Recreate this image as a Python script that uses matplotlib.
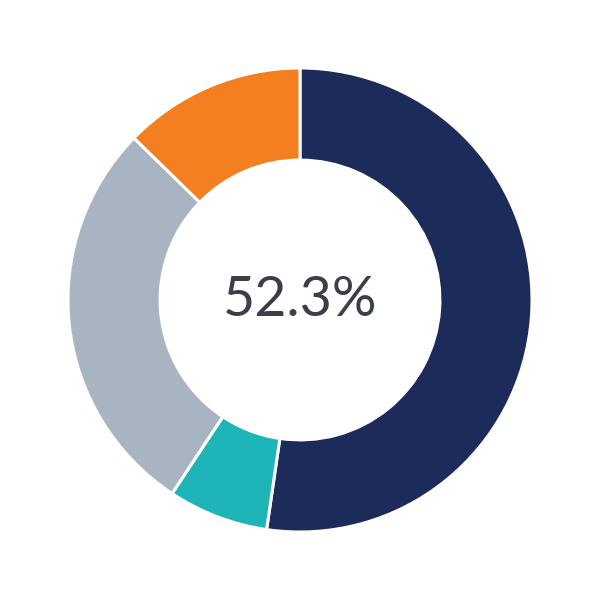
import matplotlib.pyplot as plt

labels = ['Navy', 'Teal', 'Gray', 'Orange']
shares = [52.3, 7.0, 28.0, 12.7]
colors = ['#1c2b5a', '#1db5b8', '#a9b4c2', '#f47f20']
center_label = '52.3%'

fig = plt.figure(figsize=(6, 6), dpi=100)
ax = fig.add_axes([0, 0, 1, 1])

ax.pie(shares, colors=colors, startangle=90, counterclock=False,
       radius=1.0,
       wedgeprops=dict(width=0.397, edgecolor='white', linewidth=2.2))

ax.text(0, 0, center_label, ha='center', va='center',
        fontsize=40, color='#3a3f4a', family='Lato')

ax.set_xlim(-1.293, 1.293)
ax.set_ylim(-1.293, 1.293)
ax.set_aspect('equal')
ax.axis('off')

fig.savefig('out.png', dpi=100, facecolor='white')
